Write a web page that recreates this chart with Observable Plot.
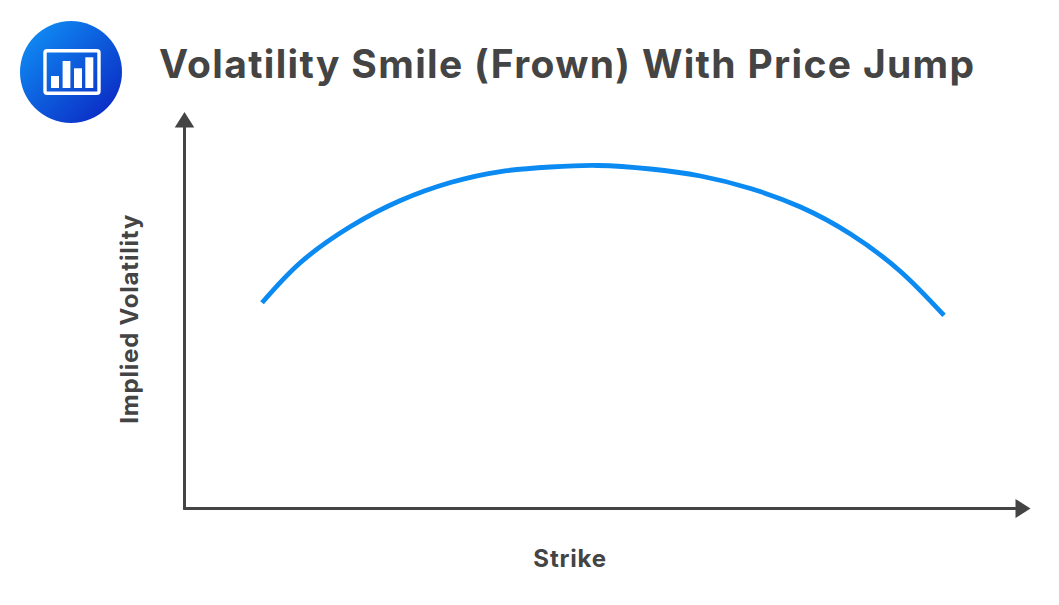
<!DOCTYPE html>
<html><head><meta charset="utf-8">
<script src="https://cdn.jsdelivr.net/npm/d3@7"></script>
<script src="https://cdn.jsdelivr.net/npm/@observablehq/plot@0.6"></script>
<style>
html,body{margin:0;padding:0;background:#fff;width:1059px;height:605px;overflow:hidden}
#wrap{position:relative;width:1059px;height:605px}
#chart{position:absolute;left:0;top:0}
#chart svg{background:transparent;overflow:visible}
#chart text{letter-spacing:.8px}
h1{position:absolute;left:159px;top:39px;margin:0;font:700 39px/50px Inter,sans-serif;color:#444;white-space:nowrap;letter-spacing:1.33px}
#logo{position:absolute;left:20px;top:21px}
</style></head><body>
<div id="wrap">
<svg id="logo" width="102" height="102" viewBox="0 0 102 102">
<defs><linearGradient id="g" x1="0" y1="0" x2="1" y2="1"><stop offset="0.1" stop-color="#0f8bf3"/><stop offset="0.9" stop-color="#0b2bc4"/></linearGradient></defs>
<circle cx="51" cy="51" r="51" fill="url(#g)"/>
<rect x="25" y="29.7" width="54" height="42.6" rx="2" fill="none" stroke="#fff" stroke-width="3.4"/>
<rect x="31" y="55" width="8" height="12" fill="#fff"/>
<rect x="42.6" y="40" width="7.8" height="27" fill="#fff"/>
<rect x="54" y="47.3" width="8" height="19.7" fill="#fff"/>
<rect x="65.3" y="36.3" width="8" height="30.7" fill="#fff"/>
</svg>
<h1 id="title"></h1>
<div id="chart"></div>
</div>
<script>
const titleText = "Volatility Smile (Frown) With Price Jump";
const xLabel = "Strike";
const yLabel = "Implied Volatility";
const strike = [9.33,13.96,19.98,25.99,32.01,38.03,44.04,49.7,56.08,62.09,68.11,74.13,80.14,86.16,91.4];
const vol = [54,64.57,74.02,80.84,85.56,88.45,89.63,90.03,89.11,87.27,83.99,79.13,72.05,62.2,50.66];
const curve = strike.map((s,i)=>({s,v:vol[i]}));
const axisX = [{s:0,v:0},{s:100,v:0}];
const axisY = [{s:0,v:0},{s:0,v:100}];
document.getElementById("title").textContent = titleText;
const ink = "#444";
const font = "Inter, sans-serif";
// arrowhead: anchored at the middle of its base, slightly flatter than an equilateral triangle
const arrowHead = {draw(ctx,size){
  const r = Math.sqrt(size/Math.PI);
  ctx.moveTo(0,-r); ctx.lineTo(0.63*r,0); ctx.lineTo(-0.63*r,0); ctx.closePath();
}};
const plot = Plot.plot({
  width:1059, height:605,
  marginLeft:184, marginRight:44, marginTop:127, marginBottom:97,
  x:{domain:[0,100],axis:null},
  y:{domain:[0,100],axis:null},
  marks:[
    Plot.line(axisX,{x:"s",y:"v",stroke:ink,strokeWidth:3}),
    Plot.line(axisY,{x:"s",y:"v",stroke:ink,strokeWidth:3}),
    Plot.dot([{s:100,v:0}],{x:"s",y:"v",symbol:arrowHead,r:15,rotate:90,fill:ink,stroke:null}),
    Plot.dot([{s:0,v:100}],{x:"s",y:"v",symbol:arrowHead,r:15.5,fill:ink,stroke:null}),
    Plot.line(curve,{x:"s",y:"v",curve:"natural",stroke:"#0b8af2",strokeWidth:4.8,strokeLinecap:"butt"}),
    Plot.text([xLabel],{x:46.4,y:-13.4,text:d=>d,fontSize:24,fontWeight:700,fill:ink,fontFamily:font}),
    Plot.text([yLabel],{x:-6.5,y:49.8,text:d=>d,rotate:-90,fontSize:24,fontWeight:700,fill:ink,fontFamily:font})
  ]
});
document.getElementById("chart").appendChild(plot);
</script>
</body></html>
